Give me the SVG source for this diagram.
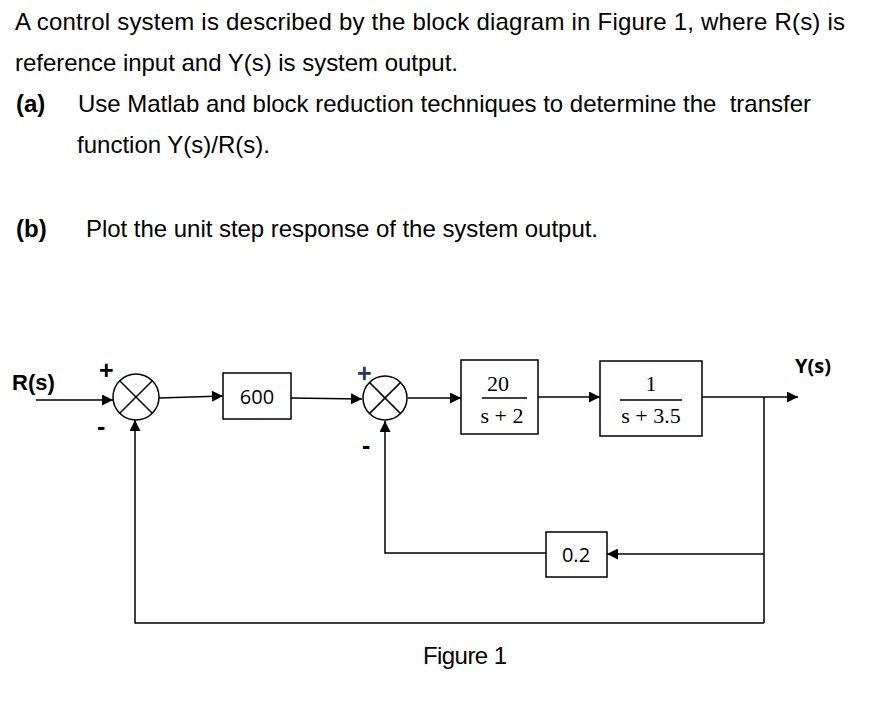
<svg xmlns="http://www.w3.org/2000/svg" width="880" height="714" viewBox="0 0 880 714">
<defs>
<style>
.t{font-family:"Liberation Sans",Arial,sans-serif;font-size:24px;fill:#000}
.b{font-weight:bold}
.lbl{font-family:"Open Sans","Liberation Sans",sans-serif;font-weight:bold;font-size:20px}
.rl{font-family:"Liberation Sans",Arial,sans-serif;font-weight:bold;font-size:22px}
.sg{font-family:"Liberation Sans",Arial,sans-serif;font-weight:bold;font-size:25px}
.num{font-family:"Open Sans","Liberation Sans",sans-serif;font-size:20px}
.frac{font-family:"Liberation Serif","Times New Roman",serif;font-size:22px}
.blk{fill:#fff;stroke:#000;stroke-width:1.5}
.ln{fill:none;stroke:#000;stroke-width:1.5}
</style>
<marker id="ar" viewBox="0 0 10 10" refX="10" refY="5" markerWidth="13" markerHeight="11" markerUnits="userSpaceOnUse" orient="auto">
<path d="M0,0 L10,5 L0,10 z" fill="#000"/>
</marker>
</defs>
<rect width="880" height="714" fill="#fff"/>
<g id="text">
<text class="t" x="15" y="30" textLength="830">A control system is described by the block diagram in Figure 1, where R(s) is</text>
<text class="t" x="15" y="71" textLength="443">reference input and Y(s) is system output.</text>
<text class="t b" x="16" y="112">(a)</text>
<text class="t" x="78" y="112" textLength="733" xml:space="preserve">Use Matlab and block reduction techniques to determine the  transfer</text>
<text class="t" x="77" y="153" textLength="193">function Y(s)/R(s).</text>
<text class="t b" x="16" y="237">(b)</text>
<text class="t" x="86" y="237" textLength="512">Plot the unit step response of the system output.</text>
<text class="t" x="423" y="664" textLength="84">Figure 1</text>
</g>
<g id="connectors">
<line class="ln" x1="36" y1="400" x2="113" y2="400" marker-end="url(#ar)"/>
<line class="ln" x1="159" y1="398" x2="223" y2="396" marker-end="url(#ar)"/>
<line class="ln" x1="291" y1="398" x2="362" y2="399" marker-end="url(#ar)"/>
<line class="ln" x1="408" y1="398" x2="461" y2="398" marker-end="url(#ar)"/>
<line class="ln" x1="538" y1="397" x2="600" y2="397" marker-end="url(#ar)"/>
<line class="ln" x1="702" y1="397" x2="798" y2="397" marker-end="url(#ar)"/>
<line class="ln" x1="764" y1="397" x2="764" y2="623"/>
<line class="ln" x1="764" y1="554" x2="607" y2="554" marker-end="url(#ar)"/>
<polyline class="ln" points="546,553 385,553 385,421" marker-end="url(#ar)"/>
<polyline class="ln" points="764,623 135,623 135,420" marker-end="url(#ar)"/>
</g>
<g id="R">
<text class="rl" x="12" y="390">R(s)</text>
</g>
<g id="Y">
<text class="lbl" x="795" y="373">Y(s)</text>
</g>
<g id="sum1">
<circle class="ln" cx="136" cy="397" r="23"/>
<line class="ln" x1="119.7" y1="380.7" x2="152.3" y2="413.3"/>
<line class="ln" x1="152.3" y1="380.7" x2="119.7" y2="413.3"/>
<text class="sg" x="99" y="379">+</text>
<text class="sg" x="97" y="435">-</text>
</g>
<g id="gain600">
<rect class="blk" x="223" y="373" width="68" height="46"/>
<text class="num" x="257" y="404" text-anchor="middle">600</text>
</g>
<g id="sum2">
<circle class="ln" cx="385" cy="398" r="22"/>
<line class="ln" x1="369.4" y1="382.4" x2="400.6" y2="413.6"/>
<line class="ln" x1="400.6" y1="382.4" x2="369.4" y2="413.6"/>
<text class="sg" x="357" y="382" fill="#1f3864">+</text>
<text class="sg" x="362" y="454">-</text>
</g>
<g id="G1">
<rect class="blk" x="461" y="360" width="77" height="74"/>
<text class="frac" x="498" y="391" text-anchor="middle">20</text>
<line class="ln" x1="482" y1="398" x2="527" y2="398" stroke-width="1"/>
<text class="frac" x="502" y="423" text-anchor="middle">s + 2</text>
</g>
<g id="G2">
<rect class="blk" x="600" y="361" width="102" height="75"/>
<text class="frac" x="651" y="391" text-anchor="middle">1</text>
<line class="ln" x1="620" y1="400" x2="682" y2="400" stroke-width="1"/>
<text class="frac" x="651" y="423" text-anchor="middle">s + 3.5</text>
</g>
<g id="H">
<rect class="blk" x="546" y="532" width="61" height="45"/>
<text class="num" x="576" y="562" text-anchor="middle">0.2</text>
</g>
</svg>
